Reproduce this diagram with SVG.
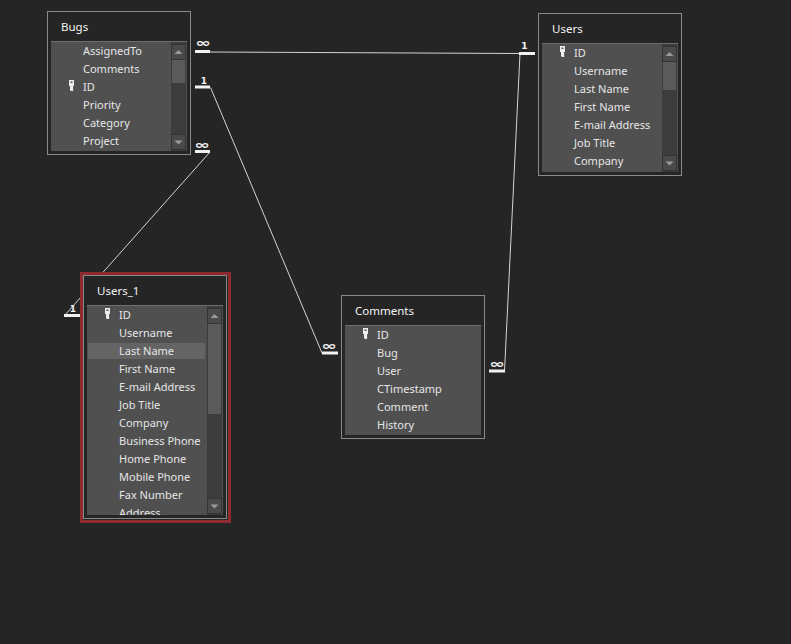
<svg xmlns="http://www.w3.org/2000/svg" width="791" height="644" viewBox="0 0 791 644">
<style>
text{font-family:"Noto Sans","Open Sans","DejaVu Sans",sans-serif}
.frame{fill:#252525;stroke:#8a8a8a;stroke-width:1}
.list{fill:#505050}
.top{fill:#6e6e6e}
.t{fill:#f4f4f4;font-size:11.5px}
.f{font-size:11px;fill:#e6e6e6}
.sb{fill:#3c3c3c}
.btn{fill:#4a4a4a;stroke:#333;stroke-width:1}
.th{fill:#5a5a5a}
.ar{fill:#9a9a9a}
.ln{fill:none;stroke:#d4d4d4;stroke-width:1}
.st{fill:none;stroke:#f2f2f2;stroke-width:3}
.c1{font:bold 9px "DejaVu Sans",sans-serif;fill:#f2f2f2;text-anchor:middle}
.inf{font:bold 15px "DejaVu Sans",sans-serif;fill:#f2f2f2;text-anchor:middle}
</style>
<defs>
<g id="key"><path d="M-3-5H2V1H1V6H-1L-2 5V1H-3Z" fill="#eee"/><rect x="-1.500" y="-3.500" width="2" height="1.500" fill="#555"/><path d="M1 3H2M1 5H2" stroke="#777"/></g>
<g id="up"><rect class="btn" x="0" y="0" width="14" height="15"/><path class="ar" d="M3 9.500H11L7 5.500Z"/></g>
<g id="dn"><rect class="btn" x="0" y="0" width="14" height="15"/><path class="ar" d="M3 6H11L7 10Z"/></g>
</defs>
<rect width="791" height="644" fill="#252525"/>
<g id="connectors">
<path class="ln" d="M210 52L520 53.500"/>
<path class="ln" d="M504.500 371L520 53.500"/>
<path class="ln" d="M210.500 87.500L322 353"/>
<path class="ln" d="M210 152L65 315"/>
<path class="st" d="M195 51.500H210M519 53.500H535M195 87H210M322 353H338M195 151.500H210M64 315.500H80M489 371H505"/>
<text class="inf" transform="translate(203 47) scale(1.250 .8)">∞</text>
<text class="c1" x="204" y="84">1</text>
<text class="inf" transform="translate(202 149) scale(1.250 .8)">∞</text>
<text class="c1" x="524.500" y="49">1</text>
<text class="c1" x="73" y="312">1</text>
<text class="inf" transform="translate(329 350) scale(1.250 .8)">∞</text>
<text class="inf" transform="translate(497 368) scale(1.250 .8)">∞</text>
</g>
<g id="bugs">
<rect class="frame" x="47.500" y="11.500" width="143" height="143"/>
<rect class="list" x="51" y="41" width="136" height="110"/>
<rect class="top" x="51" y="41" width="136" height="1"/>
<text class="t" x="61" y="31">Bugs</text>
<rect class="sb" x="171" y="42" width="15" height="109"/>
<use href="#up" x="171.500" y="44.500"/><rect class="th" x="172" y="60" width="13" height="23"/><use href="#dn" x="171.500" y="134.500"/>
<use href="#key" x="72" y="85"/>
<text class="f" x="83" y="55">AssignedTo</text>
<text class="f" x="83" y="73">Comments</text>
<text class="f" x="83" y="91">ID</text>
<text class="f" x="83" y="109">Priority</text>
<text class="f" x="83" y="127">Category</text>
<text class="f" x="83" y="145">Project</text>
</g>
<g id="users">
<rect class="frame" x="538.500" y="13.500" width="143" height="162"/>
<rect class="list" x="542" y="43" width="136" height="129"/>
<rect class="top" x="542" y="43" width="136" height="1"/>
<text class="t" x="552" y="33">Users</text>
<rect class="sb" x="662" y="44" width="15" height="128"/>
<use href="#up" x="662.500" y="46.500"/><rect class="th" x="663" y="62" width="13" height="28"/><use href="#dn" x="662.500" y="155.500"/>
<use href="#key" x="563" y="51"/>
<text class="f" x="574" y="57">ID</text>
<text class="f" x="574" y="75">Username</text>
<text class="f" x="574" y="93">Last Name</text>
<text class="f" x="574" y="111">First Name</text>
<text class="f" x="574" y="129">E-mail Address</text>
<text class="f" x="574" y="147">Job Title</text>
<text class="f" x="574" y="165">Company</text>
</g>
<g id="comments">
<rect class="frame" x="341.500" y="295.500" width="143" height="143"/>
<rect class="list" x="345" y="325" width="136" height="110"/>
<rect class="top" x="345" y="325" width="136" height="1"/>
<text class="t" x="355" y="315">Comments</text>
<use href="#key" x="366" y="333"/>
<text class="f" x="377" y="339">ID</text>
<text class="f" x="377" y="357">Bug</text>
<text class="f" x="377" y="375">User</text>
<text class="f" x="377" y="393">CTimestamp</text>
<text class="f" x="377" y="411">Comment</text>
<text class="f" x="377" y="429">History</text>
</g>
<g id="users_1">
<rect x="81.500" y="273.500" width="148" height="248" fill="#252525" stroke="#8f2a30" stroke-width="3"/>
<rect class="frame" x="83.500" y="275.500" width="143" height="243"/>
<rect class="list" x="87" y="305" width="136" height="210"/>
<rect class="top" x="87" y="305" width="136" height="1"/>
<rect x="88" y="343" width="117" height="16" fill="#646464"/>
<text class="t" x="97" y="295">Users_1</text>
<rect class="sb" x="207" y="306" width="15" height="209"/>
<use href="#up" x="207.500" y="308.500"/><rect class="th" x="208" y="324" width="13" height="90"/><use href="#dn" x="207.500" y="498.500"/>
<use href="#key" x="108" y="313"/>
<text class="f" x="119" y="319">ID</text>
<text class="f" x="119" y="337">Username</text>
<text class="f" x="119" y="355">Last Name</text>
<text class="f" x="119" y="373">First Name</text>
<text class="f" x="119" y="391">E-mail Address</text>
<text class="f" x="119" y="409">Job Title</text>
<text class="f" x="119" y="427">Company</text>
<text class="f" x="119" y="445">Business Phone</text>
<text class="f" x="119" y="463">Home Phone</text>
<text class="f" x="119" y="481">Mobile Phone</text>
<text class="f" x="119" y="499">Fax Number</text>
<clipPath id="cl"><rect x="87" y="505" width="120" height="10"/></clipPath>
<text class="f" x="119" y="517" clip-path="url(#cl)">Address</text>
</g>
</svg>
